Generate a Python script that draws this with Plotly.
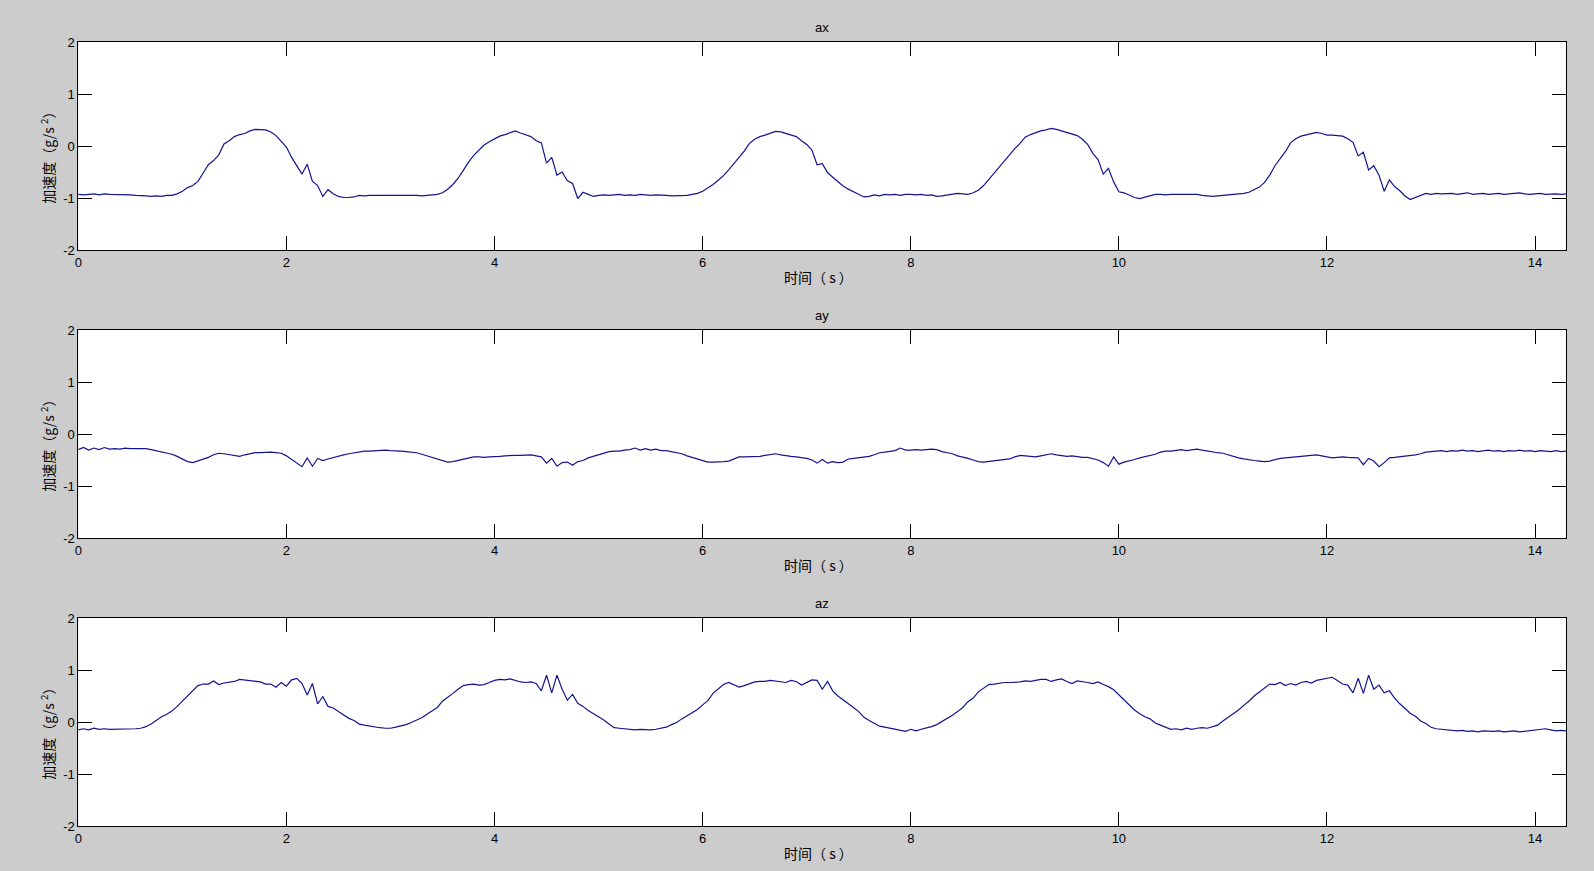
import plotly.graph_objects as go

# time axis: 0 .. 14.30 s at 0.05 s
dt = 0.05
n_samples = 287
time_s = [round(i * dt, 2) for i in range(n_samples)]

ax_vals = [
    -0.93,-0.94,-0.93,-0.92,-0.94,-0.92,-0.93,-0.93,-0.94,-0.94,-0.94,-0.95,-0.95,-0.96,-0.97,-0.96,-0.97,-0.95,-0.95,-0.92,
    -0.87,-0.80,-0.76,-0.68,-0.52,-0.36,-0.28,-0.17,0.04,0.10,0.18,0.22,0.24,0.29,0.32,0.32,0.31,0.27,0.20,0.09,
    -0.02,-0.22,-0.38,-0.54,-0.35,-0.68,-0.76,-0.97,-0.84,-0.92,-0.97,-0.99,-0.99,-0.98,-0.95,-0.96,-0.95,-0.95,-0.94,-0.95,
    -0.95,-0.94,-0.95,-0.95,-0.94,-0.95,-0.96,-0.95,-0.94,-0.93,-0.90,-0.83,-0.74,-0.62,-0.47,-0.31,-0.18,-0.08,0.02,0.08,
    0.14,0.19,0.22,0.25,0.29,0.25,0.22,0.18,0.10,0.06,-0.33,-0.22,-0.56,-0.50,-0.67,-0.72,-1.01,-0.89,-0.93,-0.97,
    -0.95,-0.94,-0.95,-0.94,-0.93,-0.95,-0.94,-0.95,-0.93,-0.94,-0.95,-0.94,-0.94,-0.95,-0.96,-0.96,-0.96,-0.95,-0.93,-0.91,
    -0.87,-0.81,-0.74,-0.66,-0.57,-0.46,-0.35,-0.22,-0.10,0.05,0.13,0.18,0.21,0.25,0.28,0.27,0.24,0.21,0.18,0.10,
    0.03,-0.08,-0.36,-0.34,-0.51,-0.60,-0.68,-0.77,-0.83,-0.88,-0.93,-0.98,-0.97,-0.94,-0.96,-0.93,-0.94,-0.93,-0.95,-0.93,
    -0.93,-0.94,-0.93,-0.95,-0.94,-0.97,-0.96,-0.94,-0.93,-0.91,-0.92,-0.93,-0.90,-0.85,-0.76,-0.64,-0.52,-0.40,-0.28,-0.17,
    -0.05,0.05,0.17,0.22,0.26,0.29,0.31,0.34,0.32,0.29,0.27,0.23,0.20,0.13,0.03,-0.14,-0.26,-0.54,-0.43,-0.69,
    -0.88,-0.90,-0.95,-0.99,-1.01,-0.98,-0.95,-0.93,-0.93,-0.94,-0.93,-0.93,-0.94,-0.93,-0.94,-0.93,-0.95,-0.96,-0.97,-0.96,
    -0.95,-0.94,-0.94,-0.93,-0.91,-0.89,-0.84,-0.79,-0.70,-0.56,-0.38,-0.24,-0.11,0.06,0.14,0.19,0.21,0.23,0.26,0.24,
    0.21,0.21,0.20,0.19,0.14,0.07,-0.19,-0.12,-0.46,-0.38,-0.56,-0.87,-0.65,-0.78,-0.86,-0.96,-1.03,-0.99,-0.95,-0.91,
    -0.93,-0.91,-0.92,-0.92,-0.91,-0.93,-0.92,-0.90,-0.93,-0.92,-0.91,-0.93,-0.92,-0.91,-0.93,-0.92,-0.92,-0.90,-0.92,-0.93,
    -0.92,-0.91,-0.93,-0.92,-0.92,-0.93,-0.92,
]

ay_vals = [
    -0.30,-0.26,-0.31,-0.27,-0.30,-0.26,-0.29,-0.28,-0.29,-0.27,-0.28,-0.28,-0.29,-0.28,-0.30,-0.32,-0.34,-0.36,-0.39,-0.43,
    -0.48,-0.53,-0.55,-0.52,-0.49,-0.45,-0.40,-0.37,-0.38,-0.40,-0.41,-0.43,-0.40,-0.38,-0.36,-0.36,-0.35,-0.35,-0.36,-0.37,
    -0.42,-0.49,-0.56,-0.63,-0.46,-0.62,-0.47,-0.51,-0.48,-0.45,-0.42,-0.40,-0.38,-0.36,-0.34,-0.33,-0.33,-0.32,-0.31,-0.31,
    -0.32,-0.32,-0.33,-0.34,-0.35,-0.36,-0.39,-0.42,-0.45,-0.48,-0.52,-0.54,-0.53,-0.51,-0.49,-0.46,-0.44,-0.44,-0.45,-0.44,
    -0.44,-0.43,-0.42,-0.41,-0.41,-0.41,-0.40,-0.40,-0.42,-0.44,-0.56,-0.47,-0.62,-0.55,-0.54,-0.60,-0.53,-0.51,-0.46,-0.43,
    -0.39,-0.36,-0.34,-0.33,-0.33,-0.31,-0.30,-0.27,-0.31,-0.28,-0.31,-0.29,-0.32,-0.32,-0.34,-0.36,-0.38,-0.42,-0.45,-0.48,
    -0.52,-0.54,-0.54,-0.54,-0.53,-0.52,-0.48,-0.44,-0.44,-0.44,-0.44,-0.43,-0.41,-0.39,-0.38,-0.40,-0.42,-0.43,-0.44,-0.45,
    -0.47,-0.50,-0.56,-0.49,-0.56,-0.53,-0.55,-0.54,-0.48,-0.47,-0.46,-0.44,-0.43,-0.40,-0.36,-0.35,-0.33,-0.32,-0.27,-0.31,
    -0.31,-0.30,-0.31,-0.30,-0.29,-0.30,-0.34,-0.36,-0.38,-0.42,-0.44,-0.47,-0.50,-0.53,-0.54,-0.53,-0.52,-0.50,-0.50,-0.48,
    -0.44,-0.41,-0.42,-0.43,-0.44,-0.42,-0.40,-0.38,-0.40,-0.41,-0.43,-0.42,-0.44,-0.45,-0.45,-0.48,-0.50,-0.55,-0.62,-0.44,
    -0.58,-0.54,-0.52,-0.49,-0.46,-0.44,-0.42,-0.39,-0.35,-0.33,-0.33,-0.32,-0.30,-0.32,-0.30,-0.29,-0.31,-0.33,-0.35,-0.36,
    -0.37,-0.40,-0.44,-0.46,-0.48,-0.50,-0.51,-0.52,-0.53,-0.52,-0.49,-0.47,-0.46,-0.45,-0.44,-0.44,-0.42,-0.41,-0.40,-0.42,
    -0.44,-0.46,-0.45,-0.44,-0.45,-0.46,-0.46,-0.59,-0.47,-0.52,-0.63,-0.55,-0.46,-0.45,-0.44,-0.43,-0.42,-0.40,-0.38,-0.35,
    -0.34,-0.33,-0.32,-0.34,-0.32,-0.33,-0.31,-0.33,-0.32,-0.34,-0.32,-0.31,-0.33,-0.32,-0.34,-0.32,-0.33,-0.31,-0.33,-0.32,
    -0.34,-0.32,-0.33,-0.34,-0.32,-0.34,-0.33,
]

az_vals = [
    -0.15,-0.13,-0.15,-0.12,-0.14,-0.13,-0.14,-0.14,-0.13,-0.14,-0.14,-0.13,-0.12,-0.09,-0.04,0.03,0.10,0.15,0.21,0.30,
    0.40,0.50,0.58,0.70,0.73,0.73,0.79,0.72,0.75,0.76,0.78,0.82,0.81,0.80,0.79,0.77,0.73,0.73,0.67,0.76,
    0.69,0.81,0.84,0.74,0.52,0.74,0.35,0.49,0.30,0.27,0.20,0.14,0.07,0.03,-0.04,-0.06,-0.08,-0.10,-0.11,-0.12,
    -0.12,-0.10,-0.08,-0.05,-0.01,0.03,0.08,0.15,0.21,0.28,0.40,0.47,0.55,0.63,0.70,0.72,0.73,0.71,0.72,0.76,
    0.80,0.82,0.81,0.83,0.80,0.77,0.76,0.77,0.74,0.60,0.90,0.56,0.90,0.63,0.42,0.53,0.36,0.30,0.22,0.16,
    0.09,0.04,-0.04,-0.11,-0.12,-0.13,-0.14,-0.15,-0.14,-0.15,-0.15,-0.14,-0.12,-0.10,-0.05,-0.01,0.06,0.12,0.18,0.24,
    0.33,0.41,0.55,0.64,0.72,0.76,0.72,0.67,0.70,0.73,0.77,0.78,0.78,0.80,0.79,0.78,0.76,0.80,0.78,0.71,
    0.76,0.81,0.80,0.63,0.78,0.60,0.50,0.43,0.36,0.28,0.20,0.09,0.03,-0.02,-0.08,-0.10,-0.12,-0.14,-0.15,-0.18,
    -0.14,-0.17,-0.14,-0.12,-0.09,-0.05,0.01,0.06,0.13,0.20,0.28,0.39,0.46,0.58,0.65,0.72,0.73,0.75,0.76,0.76,
    0.76,0.77,0.79,0.78,0.80,0.82,0.82,0.78,0.81,0.83,0.78,0.74,0.79,0.78,0.76,0.74,0.77,0.72,0.68,0.62,
    0.52,0.43,0.33,0.23,0.16,0.10,0.06,-0.02,-0.06,-0.10,-0.14,-0.13,-0.15,-0.12,-0.14,-0.12,-0.11,-0.12,-0.09,-0.06,
    0.02,0.09,0.16,0.23,0.32,0.40,0.50,0.58,0.66,0.73,0.72,0.76,0.70,0.74,0.71,0.76,0.78,0.75,0.80,0.82,
    0.84,0.86,0.80,0.73,0.71,0.56,0.84,0.55,0.90,0.63,0.71,0.56,0.60,0.46,0.35,0.26,0.17,0.11,0.02,-0.03,
    -0.10,-0.13,-0.14,-0.15,-0.15,-0.17,-0.16,-0.18,-0.17,-0.19,-0.17,-0.18,-0.18,-0.17,-0.19,-0.18,-0.17,-0.19,-0.18,-0.17,
    -0.16,-0.14,-0.13,-0.15,-0.17,-0.16,-0.17,
]

titles = ["ax", "ay", "az"]
x_label = "时间（ s ）"
y_label = "加速度（g/s <sup>2</sup>）"
x_ticks = [0, 2, 4, 6, 8, 10, 12, 14]
y_ticks = [-2, -1, 0, 1, 2]
x_range = [0, 14.3]
y_range = [-2, 2]

W, H = 1594, 871
left_px, right_px = 78.3, 1566.3
tops_px = [42, 330, 618]
plot_h = 208

FONT = "Liberation Sans, Arial, Noto Sans CJK SC, sans-serif"
CJK_FONT = "Noto Sans CJK SC, Liberation Sans, sans-serif"
LINE_COLOR = "#141490"

fig = go.Figure()
series = [ax_vals, ay_vals, az_vals]
annotations = []
for k, vals in enumerate(series):
    xa = "x" if k == 0 else f"x{k+1}"
    ya = "y" if k == 0 else f"y{k+1}"
    fig.add_trace(go.Scatter(x=time_s, y=vals, mode="lines",
                             line=dict(color=LINE_COLOR, width=1.2),
                             xaxis=xa, yaxis=ya, showlegend=False,
                             hoverinfo="skip"))
    top = tops_px[k]
    bot = top + plot_h
    ydom = [1 - bot / H, 1 - top / H]
    xdom = [left_px / W, right_px / W]
    xkey = "xaxis" if k == 0 else f"xaxis{k+1}"
    ykey = "yaxis" if k == 0 else f"yaxis{k+1}"
    common = dict(showgrid=False, zeroline=False, showline=True, linecolor="black",
                  linewidth=1, mirror="ticks", ticks="inside", ticklen=14,
                  tickcolor="black", tickwidth=1, automargin=False,
                  tickfont=dict(family=FONT, size=13, color="black"))
    fig.update_layout({
        xkey: dict(domain=xdom, range=x_range, tickvals=x_ticks,
                   ticktext=[str(v) for v in x_ticks], anchor=ya, **common),
        ykey: dict(domain=ydom, range=y_range, tickvals=y_ticks,
                   ticktext=[str(v) for v in y_ticks], anchor=xa, **common),
    })
    xc = (left_px + right_px) / 2 / W
    annotations.append(dict(text=titles[k], x=xc, y=1 - (top - 14.5) / H,
                            xref="paper", yref="paper", showarrow=False,
                            xanchor="center", yanchor="middle",
                            font=dict(family=FONT, size=13, color="black")))
    annotations.append(dict(text=x_label, x=xc - 4 / W, y=1 - (bot + 26.5) / H,
                            xref="paper", yref="paper", showarrow=False,
                            xanchor="center", yanchor="middle",
                            font=dict(family=CJK_FONT, size=14, color="black")))
    annotations.append(dict(text=y_label, x=46.8 / W, y=1 - (top + plot_h / 2 + 8) / H,
                            xref="paper", yref="paper", showarrow=False,
                            xanchor="center", yanchor="middle", textangle=-90,
                            font=dict(family=CJK_FONT, size=14, color="black")))

fig.update_layout(width=W, height=H, autosize=False,
                  margin=dict(l=0, r=0, t=0, b=0, pad=0, autoexpand=False),
                  paper_bgcolor="#cccccc", plot_bgcolor="white",
                  annotations=annotations)

post = (
    "var st='margin:0;padding:0;overflow:hidden;width:%dpx;height:%dpx;';"
    "document.documentElement.style.cssText=st;"
    "document.body.style.cssText=st;"
    "var gd=document.getElementById('{plot_id}');"
    "gd.parentElement.style.cssText=st+'line-height:0;font-size:0;';"
    "gd.style.display='block';"
) % (W, H, )

fig.write_html("out.html", config={"displayModeBar": False}, post_script=post)
